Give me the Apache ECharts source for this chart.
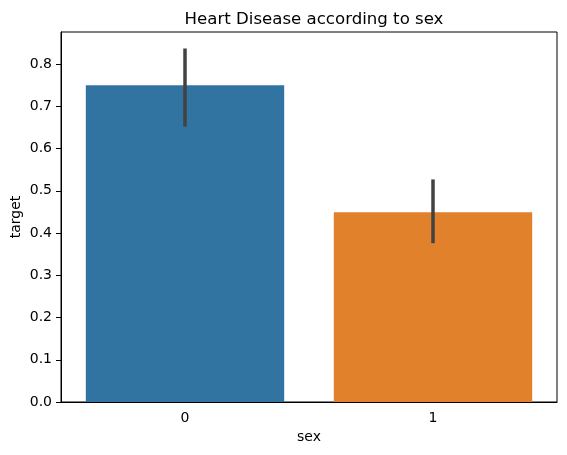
<!DOCTYPE html>
<html>
<head>
<meta charset="utf-8">
<script src="https://cdn.jsdelivr.net/npm/echarts@6/dist/echarts.min.js"></script>
<style>
  html, body { margin: 0; padding: 0; background: #fff; }
  #chart { width: 567px; height: 455px; }
</style>
</head>
<body>
<div id="chart"></div>
<script>
// 数据
var categories = ['0', '1'];
var meanTarget = [0.75, 0.449];
var ciLow = [0.652, 0.376];
var ciHigh = [0.837, 0.527];
var barColors = ['#3274a1', '#e1812c'];
var yTicks = [0, 0.1, 0.2, 0.3, 0.4, 0.5, 0.6, 0.7, 0.8];

var font = 'DejaVu Sans';
var myChart = echarts.init(document.getElementById('chart'));

myChart.setOption({
    animation: false,
    title: {
        text: 'Heart Disease according to sex',
        left: 309,
        top: 6,
        textAlign: 'center',
        textStyle: { fontFamily: font, fontSize: 16.6, fontWeight: 'normal', color: '#000' }
    },
    grid: {
        left: 61, right: 10, top: 32, bottom: 53,
        outerBoundsMode: 'none',
        containLabel: false,
        show: true, borderColor: '#000', borderWidth: 1
    },
    xAxis: {
        type: 'category',
        data: categories,
        name: 'sex',
        nameLocation: 'middle',
        nameGap: 28,
        nameTextStyle: { fontFamily: font, fontSize: 14, color: '#000' },
        axisLine: { lineStyle: { color: '#000', width: 1 } },
        axisTick: { alignWithLabel: true, length: 5, lineStyle: { color: '#000' } },
        axisLabel: { fontFamily: font, fontSize: 14, color: '#000', margin: 9 }
    },
    yAxis: {
        type: 'value',
        min: 0,
        max: 0.876,
        interval: 0.1,
        name: 'target',
        nameLocation: 'middle',
        nameGap: 38,
        nameMoveOverlap: false,
        nameTextStyle: { fontFamily: font, fontSize: 14, color: '#000' },
        splitLine: { show: false },
        axisLine: { show: true, lineStyle: { color: '#000', width: 1 } },
        axisTick: { show: true, length: 5, customValues: yTicks, lineStyle: { color: '#000' } },
        axisLabel: {
            fontFamily: font, fontSize: 14, color: '#000', margin: 9,
            customValues: yTicks,
            formatter: function (v) { return v.toFixed(1); }
        }
    },
    series: [
        {
            type: 'bar',
            barCategoryGap: '20%',
            data: meanTarget.map(function (v, i) {
                return { value: v, itemStyle: { color: barColors[i] } };
            })
        },
        {
            // 误差线
            type: 'custom',
            data: categories.map(function (c, i) { return [i, ciLow[i], ciHigh[i]]; }),
            renderItem: function (params, api) {
                var p1 = api.coord([api.value(0), api.value(1)]);
                var p2 = api.coord([api.value(0), api.value(2)]);
                return {
                    type: 'line',
                    shape: { x1: p1[0], y1: p1[1], x2: p2[0], y2: p2[1] },
                    style: { stroke: '#424242', lineWidth: 3.5 }
                };
            },
            z: 10
        }
    ]
});
</script>
</body>
</html>
